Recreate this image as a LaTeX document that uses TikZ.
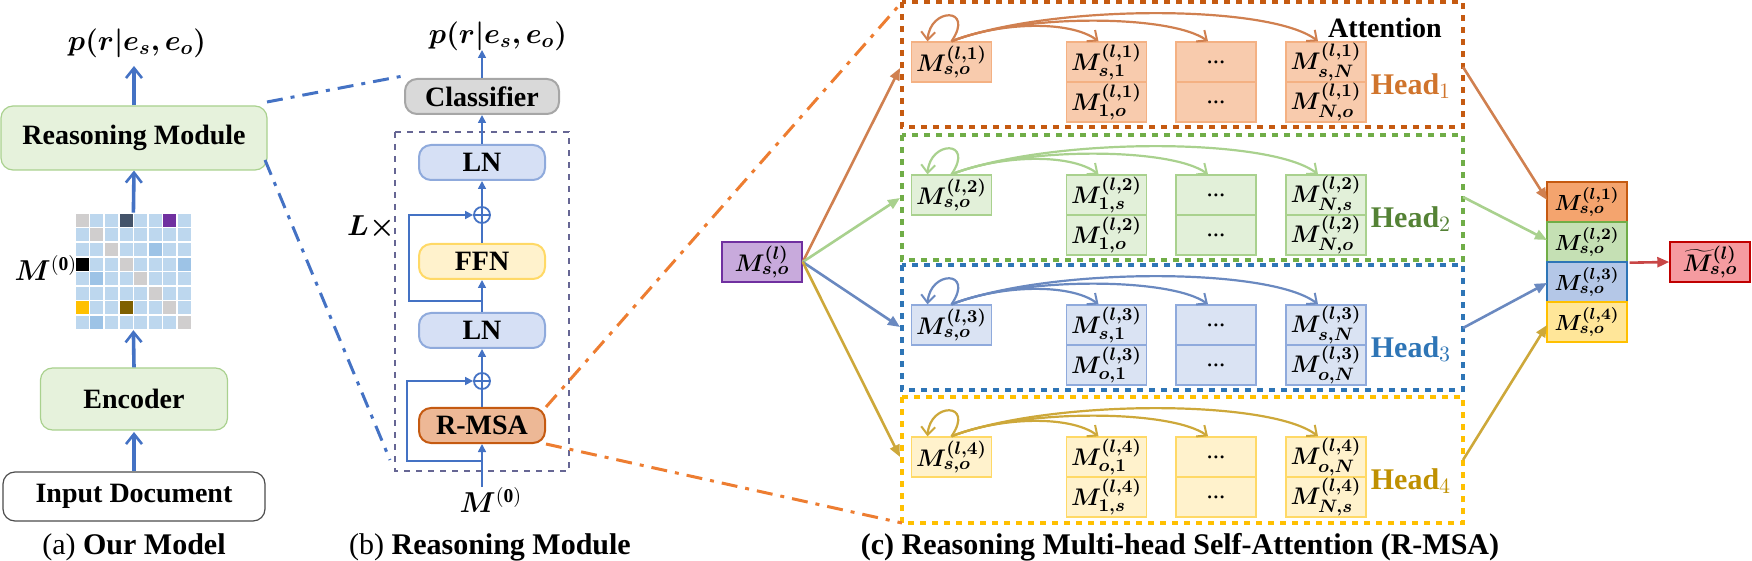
\documentclass[tikz,border=0pt]{standalone}
\usepackage{fontspec}
\setmainfont{Liberation Serif}
\usepackage{bm}
\usetikzlibrary{arrows.meta}
\definecolor{ablue}{HTML}{4472C4}
\definecolor{gfill}{HTML}{E6F2DC}\definecolor{gline}{HTML}{A9D18E}
\definecolor{lnfill}{HTML}{D6E0F5}\definecolor{lnline}{HTML}{8FAADC}
\definecolor{ffill}{HTML}{FFF2CC}\definecolor{fline}{HTML}{FFD966}
\definecolor{rfill}{HTML}{EDB896}\definecolor{rline}{HTML}{C55A11}
\definecolor{odash}{HTML}{ED7D31}
\definecolor{hd1}{HTML}{C55A11}\definecolor{hb1}{HTML}{F4B183}\definecolor{hf1}{HTML}{F8CBAD}\definecolor{ha1}{HTML}{D08050}\definecolor{ht1}{HTML}{D0742C}
\definecolor{hd2}{HTML}{70AD47}\definecolor{hb2}{HTML}{A9D18E}\definecolor{hf2}{HTML}{E2F0D9}\definecolor{ha2}{HTML}{A9D18E}\definecolor{ht2}{HTML}{548235}
\definecolor{hd3}{HTML}{2E75B6}\definecolor{hb3}{HTML}{8FAADC}\definecolor{hf3}{HTML}{DAE3F3}\definecolor{ha3}{HTML}{6A89C0}\definecolor{ht3}{HTML}{2E75B6}
\definecolor{hd4}{HTML}{FFC000}\definecolor{hb4}{HTML}{FFD966}\definecolor{hf4}{HTML}{FFF2CC}\definecolor{ha4}{HTML}{CDA83A}\definecolor{ht4}{HTML}{BF9000}
\definecolor{sf1}{HTML}{F4A46E}\definecolor{sf2}{HTML}{C5E0B4}\definecolor{sf3}{HTML}{B4C7E7}\definecolor{sf4}{HTML}{FFE699}
\definecolor{cgrey}{HTML}{D0CECE}\definecolor{cbase}{HTML}{BDD7EE}\definecolor{cdb}{HTML}{9DC3E6}
\definecolor{cslate}{HTML}{44546A}\definecolor{cpurp}{HTML}{7030A0}\definecolor{cgold}{HTML}{FFC000}\definecolor{cbrown}{HTML}{7F6000}
\definecolor{inl}{HTML}{7030A0}\definecolor{inf}{HTML}{C8AADC}
\definecolor{outl}{HTML}{C00000}\definecolor{outf}{HTML}{F59BA0}\definecolor{reda}{HTML}{C84646}
\begin{document}
\begin{tikzpicture}[x=0.5pt,y=-0.5pt,
  every node/.style={font=\fontsize{14}{16}\selectfont\bfseries, inner sep=0pt},
  rbox/.style={draw, rounded corners=6pt, line width=0.6pt},
  gbox/.style={rbox, draw=gline, fill=gfill},
  lbox/.style={rbox, draw=lnline, fill=lnfill, line width=1pt, minimum width=63pt, minimum height=17.5pt},
  bar/.style={-{Straight Barb[length=5pt,width=8pt,line width=1.3pt]}, draw=ablue, line width=1.8pt},
  thin/.style={-{Triangle[length=4pt,width=4pt]}, draw=ablue, line width=0.8pt},
  mbox/.style={draw, line width=0.7pt, minimum width=40pt, minimum height=20pt, font=\fontsize{12.5}{13}\selectfont},
  sbox/.style={mbox, font=\fontsize{11}{12}\selectfont},
  carrow/.style={-{Straight Barb[length=4pt,width=7pt,line width=1pt]}, line width=1.1pt},
  harrow/.style={-{Triangle[length=6pt,width=5pt]}, line width=1.3pt},
  dd/.style={line width=1.5pt, dash pattern=on 8pt off 4pt on 2pt off 4pt},
  capt/.style={font=\fontsize{15}{17}\selectfont}
]
\useasboundingbox (0,0) rectangle (1752,561);
% ---------------- (a)
\node[gbox, minimum width=133pt, minimum height=32pt] (rm) at (134,138) {Reasoning Module};
\node[gbox, minimum width=93.5pt, minimum height=31pt] (enc) at (134,399) {Encoder};
\node[rbox, draw=black!70, minimum width=131pt, minimum height=24.5pt] (inp) at (134,496.5) {Input Document};
\node (pa) at (137,43) {$\bm{p(r|e_s,e_o)}$};
\foreach \r in {0,...,7}\foreach \c in {0,...,7}
  \fill[cbase,draw=white,line width=0.8pt] (75+\c*14.6,213+\r*14.6) rectangle ++(14.6,14.6);
\foreach \c/\r/\col in {0/0/cgrey,3/0/cslate,6/0/cpurp,1/1/cgrey,2/2/cgrey,5/2/cdb,0/3/black,3/3/cgrey,7/3/cdb,1/4/cdb,4/4/cgrey,5/5/cgrey,0/6/cgold,3/6/cbrown,6/6/cgrey,1/7/cdb,7/7/cgrey}
  \fill[\col,draw=white,line width=0.8pt] (75+\c*14.6,213+\r*14.6) rectangle ++(14.6,14.6);
\node[minimum width=58.4pt, minimum height=58.4pt] (mat) at (133.4,271.4) {};
\node (m0a) at (46,268) {$\bm{M}^{(\mathbf{0})}$};
\draw[bar] (inp.north) -- (134,432);
\draw[bar] (enc.north) -- (mat.south);
\draw[bar] (mat.north) -- (rm.south);
\draw[bar] (rm.north) -- (134,66);
\node[capt] (capa) at (134,547) {\mdseries(a) \bfseries Our Model};
% ---------------- (b)
\node (pb) at (498,36) {$\bm{p(r|e_s,e_o)}$};
\node[rbox, draw=black!35, fill=black!15, line width=1pt, minimum width=77pt, minimum height=17.5pt] (cls) at (482,96.5) {Classifier};
\draw[dashed, draw=black!70!blue!60, line width=1pt] (395,132) rectangle (569,471);
\node[lbox] (ln1) at (482,162.5) {LN};
\node[draw=ablue, circle, line width=0.9pt, minimum size=8pt] (pl1) at (482,215) {};
\draw[ablue,line width=0.9pt] (pl1.north)--(pl1.south) (pl1.west)--(pl1.east);
\node[rbox, draw=fline, fill=ffill, line width=1pt, minimum width=63pt, minimum height=17.5pt] (ffn) at (482,261.5) {FFN};
\node[lbox] (ln2) at (482,330.5) {LN};
\node[draw=ablue, circle, line width=0.9pt, minimum size=8pt] (pl2) at (482,381) {};
\draw[ablue,line width=0.9pt] (pl2.north)--(pl2.south) (pl2.west)--(pl2.east);
\node[rbox, draw=rline, fill=rfill, line width=1pt, minimum width=63pt, minimum height=17.5pt] (rmsa) at (482,425.5) {R-MSA};
\node (m0b) at (491,500) {$\bm{M}^{(\mathbf{0})}$};
\node (lx) at (371,228) {$\bm{L}\bm{\times}$};
\draw[thin] (482,487) -- (rmsa.south);
\draw[ablue,line width=0.8pt] (rmsa.north) -- (pl2.south);
\draw[thin] (pl2.north) -- (ln2.south);
\draw[thin] (ln2.north) -- (ffn.south);
\draw[ablue,line width=0.8pt] (ffn.north) -- (pl1.south);
\draw[thin] (pl1.north) -- (ln1.south);
\draw[thin] (ln1.north) -- (cls.south);
\draw[thin] (cls.north) -- (482,50);
\coordinate (s1) at (482,301); \coordinate (s2) at (482,461);
\draw[thin] (s1) -- (409,301) -- (409,215) -- (pl1.west);
\draw[thin] (s2) -- (407,461) -- (407,381) -- (pl2.west);
\node[capt] (capb) at (490,547) {\mdseries(b) \bfseries Reasoning Module};
\coordinate (bt) at (403,76); \coordinate (bb) at (390,460);
\draw[ablue, dd] (267,102) -- (bt);
\draw[ablue, dd] (265,160) -- (bb);
% ---------------- (c)
\foreach \i/\T/\ta/\tb/\tc/\td in {1/2/{s,1}/{1,o}/{s,N}/{N,o}, 2/135/{1,s}/{1,o}/{N,s}/{N,o}, 3/265/{s,1}/{o,1}/{s,N}/{o,N}, 4/397/{o,1}/{1,s}/{o,N}/{N,s}} {
  \pgfmathsetmacro\B{\i==4 ? 523 : (\T+125)}
  \draw[dashed, draw=hd\i, line width=1.6pt] (902,\T) rectangle (1463,\B);
  \coordinate (hnw\i) at (902,\T); \coordinate (hsw\i) at (902,\B);
  \node[mbox, draw=hb\i, fill=hf\i] (l\i) at (951.5,\T+60) {$\bm{M^{(l,\i)}_{s,o}}$};
  \node[mbox, draw=hb\i, fill=hf\i] (a\i) at (1106.5,\T+60) {$\bm{M^{(l,\i)}_{\ta}}$};
  \node[mbox, draw=hb\i, fill=hf\i] (b\i) at (1106.5,\T+100) {$\bm{M^{(l,\i)}_{\tb}}$};
  \node[mbox, draw=hb\i, fill=hf\i] (c\i) at (1216,\T+60) {...};
  \node[mbox, draw=hb\i, fill=hf\i] (d\i) at (1216,\T+100) {...};
  \node[mbox, draw=hb\i, fill=hf\i] (e\i) at (1326,\T+60) {$\bm{M^{(l,\i)}_{\tc}}$};
  \node[mbox, draw=hb\i, fill=hf\i] (f\i) at (1326,\T+100) {$\bm{M^{(l,\i)}_{\td}}$};
  \node[text=ht\i, font=\fontsize{15}{17}\selectfont\bfseries] (hl\i) at (1411,\T+84) {Head$_{\i}$};
  \draw[carrow, draw=ha\i] (l\i.north) .. controls (975,\T+5) and (930,\T+5) .. ([xshift=-12pt]l\i.north);
  \draw[carrow, draw=ha\i] (l\i.north) .. controls (1000,\T+20) and (1070,\T+18) .. ([xshift=-4pt]a\i.north);
  \draw[carrow, draw=ha\i] (l\i.north) .. controls (1020,\T+12) and (1170,\T+12) .. ([xshift=-4pt]c\i.north);
  \draw[carrow, draw=ha\i] (l\i.north) .. controls (1050,\T+2) and (1270,\T+2) .. ([xshift=-4pt]e\i.north);
}
\node (att) at (1385,28) {Attention};
\draw[odash, dd] (rmsa.north east) -- (hnw1);
\draw[odash, dd] (rmsa.south east) -- (hsw4);
\node[mbox, draw=inl, fill=inf] (in) at (762,262) {$\bm{M^{(l)}_{s,o}}$};
\coordinate (t1) at (900,68); \coordinate (t2) at (900,198); \coordinate (t3) at (900,327); \coordinate (t4) at (900,457);
\foreach \i in {1,...,4} \draw[harrow, draw=ha\i, fill=ha\i] (in.east) -- (t\i);
\foreach \i/\y in {1/202,2/242,3/282,4/322}
  \node[sbox, draw=hd\i, fill=sf\i] (o\i) at (1587,\y) {$\bm{M^{(l,\i)}_{s,o}}$};
\coordinate (r1) at (1463,67); \coordinate (r2) at (1463,197); \coordinate (r3) at (1463,328); \coordinate (r4) at (1463,460);
\coordinate (e1) at (1547,200); \coordinate (e2) at (1547,240); \coordinate (e3) at (1547,283); \coordinate (e4) at (1547,325);
\foreach \i in {1,...,4} \draw[harrow, draw=ha\i, fill=ha\i] (r\i) -- (e\i);
\node[mbox, draw=outl, fill=outf] (out) at (1710,262) {$\bm{\widetilde{M}^{(l)}_{s,o}}$};
\draw[harrow, draw=reda, fill=reda] (o2.south east) ++(2,0) -- (out.west);
\node[capt] (capc) at (1180,547) {\bfseries(c) Reasoning Multi-head Self-Attention (R-MSA)};
\end{tikzpicture}
\end{document}
